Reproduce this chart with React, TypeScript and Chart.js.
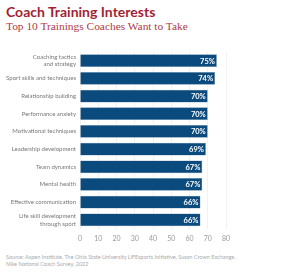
import React, { useEffect, useRef } from "react";
import { Chart, registerables } from "chart.js";

Chart.register(...registerables);

const categories: (string | string[])[] = [
  ["Coaching tactics", "and strategy"],
  "Sport skills and techniques",
  "Relationship building",
  "Performance anxiety",
  "Motivational techniques",
  "Leadership development",
  "Team dynamics",
  "Mental health",
  "Effective communication",
  ["Life skill development", "through sport"],
];
const values = [75, 74, 70, 70, 70, 69, 67, 67, 66, 66];
const xTicks = [0, 10, 20, 30, 40, 50, 60, 70, 80];

const title = "Coach Training Interests";
const subtitle = "Top 10 Trainings Coaches Want to Take";
const sourceLines = [
  "Source: Aspen Institute, The Ohio State University LiFEsports Initiative, Susan Crown Exchange,",
  "Nike National Coach Survey, 2022",
];

const labelPlugin = {
  id: "barLabels",
  afterDatasetsDraw(chart: any) {
    const ctx = chart.ctx;
    const meta = chart.getDatasetMeta(0);
    ctx.save();
    ctx.fillStyle = "#ffffff";
    ctx.font = "bold 7.5px Lato";
    ctx.textAlign = "right";
    ctx.textBaseline = "middle";
    meta.data.forEach((bar: any, i: number) => {
      ctx.fillText(values[i] + "%", bar.x - 2, bar.y + 0.5);
    });
    ctx.restore();
  },
};

export default function App() {
  const ref = useRef<HTMLCanvasElement>(null);
  useEffect(() => {
    const chart = new Chart(ref.current!, {
      type: "bar",
      data: {
        labels: categories,
        datasets: [
          {
            data: values,
            backgroundColor: "#0b4a7c",
            borderColor: "#6f93b3",
            borderWidth: 0.5,
            barPercentage: 0.72,
            categoryPercentage: 1,
          },
        ],
      },
      options: {
        indexAxis: "y",
        animation: false,
        responsive: false,
        maintainAspectRatio: false,
        layout: { padding: { top: 5.3, bottom: 5.3, left: 0, right: 74 } },
        plugins: { legend: { display: false }, tooltip: { enabled: false } },
        scales: {
          x: {
            min: 0,
            max: 80,
            afterBuildTicks: (s: any) => {
              s.ticks = xTicks.map((v) => ({ value: v }));
            },
            afterFit: (s: any) => {
              s.height = 16;
            },
            grid: { color: "#ececec", drawTicks: false, lineWidth: 0.7 },
            border: { display: false },
            ticks: { color: "#999", font: { family: "Lato", size: 7 }, padding: 6 },
          },
          y: {
            afterFit: (s: any) => {
              s.width = 80;
            },
            grid: { display: false, drawTicks: false },
            border: { display: false },
            ticks: {
              autoSkip: false,
              color: "#777",
              font: { family: "Lato", size: 6, lineHeight: 1.3 },
              padding: 4,
            },
          },
        },
      },
      plugins: [labelPlugin],
    });
    return () => chart.destroy();
  }, []);

  return (
    <div style={{ position: "absolute", left: 0, top: 0, width: 300, height: 273, background: "#fff", overflow: "hidden" }}>
      <div style={{ position: "absolute", left: 6, top: 3, font: "bold 14px Lato", color: "#a31f34", whiteSpace: "nowrap" }}>{title}</div>
      <div style={{ position: "absolute", left: 6, top: 20, font: "11.4px 'Liberation Serif'", color: "#ad3a4a", whiteSpace: "nowrap" }}>{subtitle}</div>
      <canvas ref={ref} width={300} height={210} style={{ position: "absolute", left: 0, top: 40, width: 300, height: 210 }} />
      <div style={{ position: "absolute", left: 6, top: 254, font: "5.5px Lato", color: "#aaa", lineHeight: "7px", whiteSpace: "nowrap" }}>
        {sourceLines.map((l, i) => (
          <div key={i}>{l}</div>
        ))}
      </div>
    </div>
  );
}
